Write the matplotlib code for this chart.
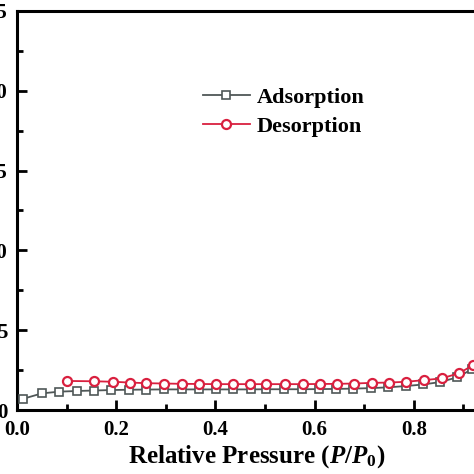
import numpy as np
import matplotlib
matplotlib.use("Agg")
import matplotlib.pyplot as plt
from matplotlib.ticker import MultipleLocator


# =========================
# DATA
# =========================
ads_p = [0.012, 0.050, 0.085, 0.120, 0.155, 0.190, 0.226, 0.261, 0.296,
         0.332, 0.367, 0.401, 0.436, 0.471, 0.503, 0.538, 0.574, 0.609,
         0.643, 0.678, 0.713, 0.748, 0.784, 0.819, 0.853, 0.888, 0.917]
ads_q = [0.70, 1.04, 1.15, 1.19, 1.22, 1.25, 1.27, 1.28, 1.29,
         1.29, 1.29, 1.29, 1.29, 1.29, 1.30, 1.30, 1.30, 1.31,
         1.32, 1.34, 1.37, 1.42, 1.50, 1.60, 1.75, 2.05, 2.55]

des_p = [0.100, 0.156, 0.193, 0.228, 0.261, 0.296, 0.332, 0.367, 0.401,
         0.436, 0.470, 0.503, 0.540, 0.576, 0.611, 0.646, 0.680, 0.715,
         0.750, 0.785, 0.820, 0.856, 0.891, 0.919]
des_q = [1.82, 1.80, 1.77, 1.72, 1.68, 1.66, 1.64, 1.63, 1.62,
         1.62, 1.62, 1.62, 1.62, 1.62, 1.63, 1.64, 1.66, 1.70,
         1.72, 1.77, 1.87, 1.98, 2.30, 2.80]

ADS_COLOR = "#4f5757"
DES_COLOR = "#d9203f"

plt.rcParams["font.family"] = ["Liberation Serif", "DejaVu Serif"]
plt.rcParams["font.weight"] = "bold"
plt.rcParams["mathtext.fontset"] = "custom"
plt.rcParams["mathtext.it"] = "Liberation Serif:italic:bold"
plt.rcParams["mathtext.rm"] = "Liberation Serif:bold"

fig = plt.figure(figsize=(4.74, 4.74), dpi=100)
W = H = 474.0
# axes run past the right edge, the reference is a crop
ax = fig.add_axes([17 / W, 1 - 410 / H, (513 - 17) / W, (410 - 11) / H])

ax.plot(ads_p, ads_q, color=ADS_COLOR, lw=1.3, marker="s", ms=5.5,
        mfc="white", mec=ADS_COLOR, mew=1.2, label="Adsorption", zorder=3)
ax.plot(des_p, des_q, color=DES_COLOR, lw=1.3, marker="o", ms=6.5,
        mfc="white", mec=DES_COLOR, mew=1.6, label="Desorption", zorder=4)

ax.set_xlim(0, 1.0)
ax.set_ylim(0, 25)
ax.xaxis.set_major_locator(MultipleLocator(0.2))
ax.xaxis.set_minor_locator(MultipleLocator(0.1))
ax.yaxis.set_major_locator(MultipleLocator(5))
ax.yaxis.set_minor_locator(MultipleLocator(2.5))
ax.xaxis.set_major_formatter(plt.FuncFormatter(lambda v, p: f"{v:.1f}"))

ax.tick_params(which="both", direction="in", top=False, right=False,
               width=2, labelsize=15)
ax.tick_params(which="major", length=7, pad=7)
ax.tick_params(which="minor", length=4)

for s in ax.spines.values():
    s.set_linewidth(2.2)

ax.set_xlabel(r"Relative Pressure ($\mathit{P/P_0}$)", fontsize=18,
              fontweight="bold")
ax.xaxis.set_label_coords((257 - 17) / 496, -47 / 399)
ax.xaxis.label.set_va("center")

ax.legend(loc="upper left", bbox_to_anchor=(203 / W, 1 - 87 / H),
          bbox_transform=fig.transFigure, frameon=False, fontsize=16,
          handlelength=2.1, handletextpad=0.3, labelspacing=0.4,
          borderpad=0, borderaxespad=0)

fig.savefig("out.png", dpi=100)
